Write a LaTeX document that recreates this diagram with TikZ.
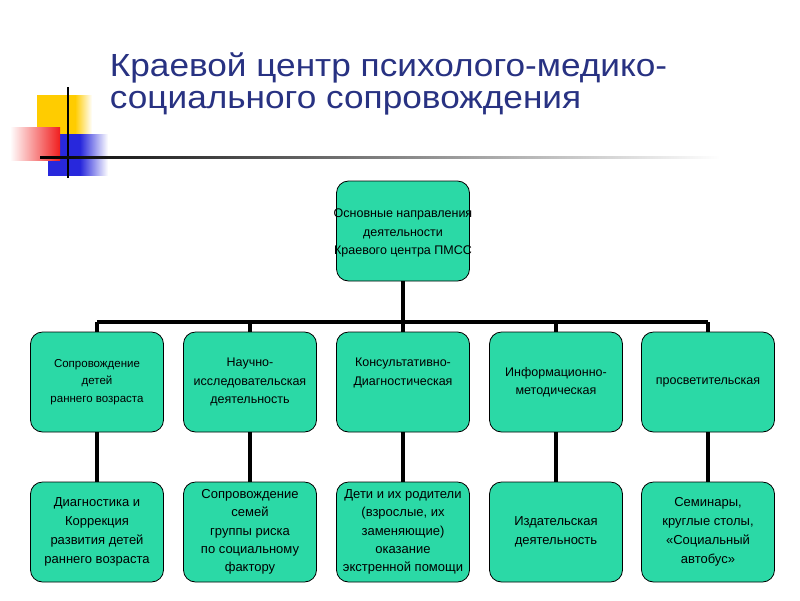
\documentclass[tikz,border=0pt]{standalone}
\usepackage{fontspec}
\setmainfont{Liberation Sans}
\begin{document}
\begin{tikzpicture}[x=1pt,y=-1pt,
  gbox/.style={draw=black,line width=0.8pt,rounded corners=12pt,minimum width=133pt,minimum height=100pt,inner sep=0pt},
  btxt/.style={align=center,font=\fontsize{12.5}{18.5}\selectfont},
  ttl/.style={anchor=west,text={rgb,255:red,40;green,50;blue,130},font=\fontsize{32}{36}\selectfont,xscale=1.1},
  conn/.style={line width=3.5pt}]
\useasboundingbox (0,0) rectangle (800,600);
\fill[white] (0,0) rectangle (800,600);
\definecolor{tgreen}{HTML}{2BD9A6}
\tikzset{gbox/.append style={fill=tgreen}}
% decoration
\shade[left color={rgb,255:red,255;green,204;blue,0},right color={rgb,255:red,255;green,204;blue,0}] (37,95) rectangle (75,135);
\shade[left color={rgb,255:red,255;green,204;blue,0},right color=white] (75,95) rectangle (92,135);
\shade[left color={rgb,255:red,40;green,40;blue,220},right color={rgb,255:red,40;green,40;blue,220}] (48,134) rectangle (80,175);
\shade[left color={rgb,255:red,40;green,40;blue,220},right color=white] (80,134) rectangle (108,175);
\shade[left color=white,right color={rgb,255:red,240;green,30;blue,30}] (10,127) rectangle (60,160);
\draw[line width=1.6pt] (68,87) -- (68,178);
\shade[left color=black,right color=white] (40,156) rectangle (720,158.5);
% title
\node[ttl] (t1) at (106,68) {Краевой центр психолого-медико-};
\node[ttl] (t2) at (106,103) {социального сопровождения};
% top box
\node[gbox] (top) at (403,231) {};
\node[btxt] at (403,233) {Основные направления\\деятельности\\Краевого центра ПМСС};
% rows
\foreach \n/\x in {a/97,b/250,c/403,d/556,e/708}{
  \node[gbox] (\n1) at (\x,382) {};
  \node[gbox] (\n2) at (\x,532) {};
}
\coordinate (bus) at (403,322);
\draw[conn] (top.south) -- (bus);
\draw[conn] (a1.north |- bus) -- (e1.north |- bus);
\foreach \n in {a,b,c,d,e}{
  \draw[conn] (\n1.north |- bus) -- (\n1.north);
  \draw[conn] (\n1.south) -- (\n2.north);
}
\node[btxt,font=\fontsize{11.5}{17.5}\selectfont] at (97,382) {Сопровождение\\детей\\раннего возраста};
\node[btxt] at (250,382) {Научно-\\исследовательская\\деятельность};
\node[btxt] at (403,373) {Консультативно-\\Диагностическая};
\node[btxt] at (556,382) {Информационно-\\методическая};
\node[btxt] at (708,382) {просветительская};
\node[btxt,font=\fontsize{13}{19}\selectfont] at (97,532) {Диагностика и\\Коррекция\\развития детей\\раннего возраста};
\node[btxt,font=\fontsize{13}{18.3}\selectfont] at (250,532) {Сопровождение\\семей\\группы риска\\по социальному\\фактору};
\node[btxt,font=\fontsize{13}{18.3}\selectfont] at (403,532) {Дети и их родители\\(взрослые, их\\заменяющие)\\оказание\\экстренной помощи};
\node[btxt,font=\fontsize{13}{19}\selectfont] at (556,532) {Издательская\\деятельность};
\node[btxt,font=\fontsize{13}{19}\selectfont] at (708,532) {Семинары,\\круглые столы,\\«Социальный\\автобус»};
\end{tikzpicture}
\end{document}
